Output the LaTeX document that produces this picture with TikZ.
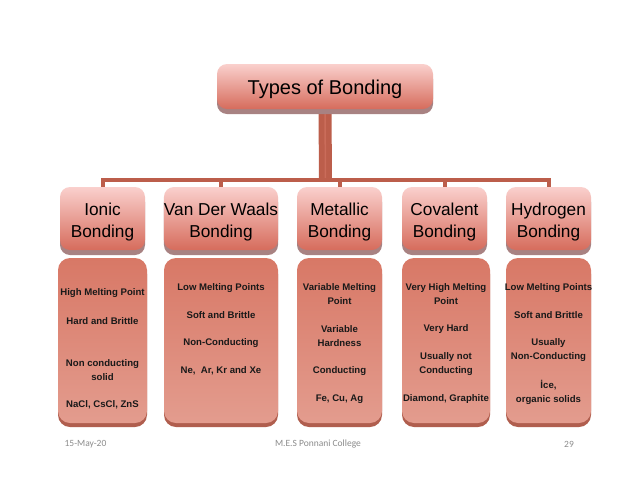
\documentclass[tikz,border=0pt]{standalone}
\usepackage{fontspec}
\setmainfont{Liberation Sans}
\newfontfamily\footfont{Carlito}
\usetikzlibrary{shadows,backgrounds}
\definecolor{headtop}{HTML}{FAD0CD}
\definecolor{headbot}{HTML}{D66C5C}
\definecolor{hshadow}{HTML}{A88282}
\definecolor{lowtop}{HTML}{D87866}
\definecolor{lowbot}{HTML}{E39C8E}
\definecolor{lowshadow}{HTML}{B05E4E}
\definecolor{conn}{HTML}{BC5E4B}
\definecolor{connlight}{HTML}{CA6C5A}
\definecolor{footgray}{HTML}{8C8C8C}
\newcommand\hstrut{\rule{0pt}{20.5pt}}
\begin{document}
\begin{tikzpicture}[x=1pt,y=-1pt,
 headbox/.style={rounded corners=10pt, top color=headtop, bottom color=headbot, draw=none, align=center,
   font=\fontsize{17.25}{22}\selectfont, inner sep=0pt,
   general shadow={fill=hshadow, shadow yshift=-5pt}},
 lowbox/.style={rounded corners=12pt, top color=lowtop, bottom color=lowbot, draw=none, inner sep=0pt,
   general shadow={fill=lowshadow, shadow yshift=-4pt}},
 item/.style={font=\bfseries\fontsize{9.6}{13.9}\selectfont, align=center, inner sep=0pt, text=black!90},
 bar/.style={draw=conn, line width=4pt},
 foot/.style={font=\footfont\fontsize{9.5}{11}\selectfont, text=footgray, inner sep=0pt}]
\useasboundingbox (0,0) rectangle (638,493);

% title
\node[headbox, font=\fontsize{20}{24}\selectfont, minimum width=216pt, minimum height=45pt] (title) at (325,86.5) {\hstrut Types of Bonding};

% headers
\node[headbox, minimum width=85pt, minimum height=63pt] (ionicH) at (102.5,218.5) {\hstrut Ionic\\Bonding};
\node[headbox, minimum width=114pt, minimum height=63pt] (vdwH) at (221,218.5) {\hstrut Van Der Waals\\Bonding};
\node[headbox, minimum width=85pt, minimum height=63pt] (metH) at (339.5,218.5) {\hstrut Metallic\\Bonding};
\node[headbox, minimum width=85pt, minimum height=63pt] (covH) at (444.5,218.5) {\hstrut Covalent\\Bonding};
\node[headbox, minimum width=85pt, minimum height=63pt] (hydH) at (548.5,218.5) {\hstrut Hydrogen\\Bonding};

% lower boxes
\node[lowbox, minimum width=89pt, minimum height=165pt] (ionicL) at (102.5,340.5) {};
\node[lowbox, minimum width=114pt, minimum height=165pt] (vdwL) at (221,340.5) {};
\node[lowbox, minimum width=85pt, minimum height=165pt] (metL) at (339.5,340.5) {};
\node[lowbox, minimum width=88pt, minimum height=165pt] (covL) at (446,340.5) {};
\node[lowbox, minimum width=85pt, minimum height=165pt] (hydL) at (548.5,340.5) {};

% connectors
\coordinate (hub) at (325.5,180);
\begin{pgfonlayer}{background}
\fill[white] (0,0) rectangle (638,493);
\draw[draw=conn, line width=13pt] (title.south) -- (hub);
\draw[draw=connlight, line width=1.5pt] (title.south) -- (hub);
\draw[bar] (ionicH.north) |- (hub) -| (hydH.north);
\draw[bar] (vdwH.north) -- (vdwH.north |- hub);
\draw[bar] (metH.north) -- (metH.north |- hub);
\draw[bar] (covH.north) -- (covH.north |- hub);
\end{pgfonlayer}

% ionic items
\node[item] (i1) at (102.5,293) {High Melting Point};
\node[item] (i2) at (102.5,321) {Hard and Brittle};
\node[item] (i3) at (102.5,370) {Non conducting\\solid};
\node[item] (i4) at (102.5,405) {NaCl, CsCl, ZnS};
% van der waals items
\node[item] (v1) at (221,288) {Low Melting Points};
\node[item] (v2) at (221,315) {Soft and Brittle};
\node[item] (v3) at (221,343) {Non-Conducting};
\node[item] (v4) at (221,371) {Ne,~ Ar, Kr and Xe};
% metallic items
\node[item] (m1) at (339.5,294.5) {Variable Melting\\Point};
\node[item] (m2) at (339.5,336) {Variable\\Hardness};
\node[item] (m3) at (339.5,371) {Conducting};
\node[item] (m4) at (339.5,399) {Fe, Cu, Ag};
% covalent items
\node[item] (c1) at (446,294.5) {Very High Melting\\Point};
\node[item] (c2) at (446,329) {Very Hard};
\node[item] (c3) at (446,364) {Usually not\\Conducting};
\node[item] (c4) at (446,399) {Diamond, Graphite};
% hydrogen items
\node[item] (h1) at (548.5,288) {Low Melting Points};
\node[item] (h2) at (548.5,315) {Soft and Brittle};
\node[item] (h3) at (548.5,350) {Usually\\Non-Conducting};
\node[item] (h4) at (548.5,392) {İce,\\organic solids};

% footer
\node[foot] (fdate) at (85.5,444) {15-May-20};
\node[foot] (fcoll) at (318,444) {M.E.S Ponnani College};
\node[foot] (fpage) at (569,444) {29};
\end{tikzpicture}
\end{document}
